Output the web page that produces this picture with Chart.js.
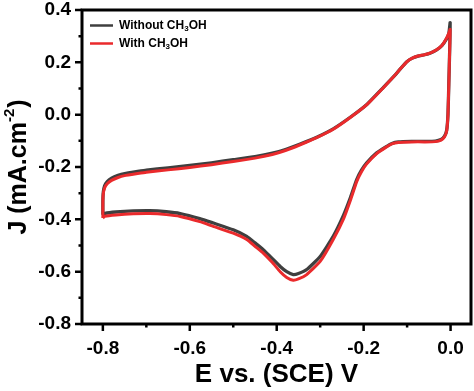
<!DOCTYPE html>
<html>
<head>
<meta charset="utf-8">
<script src="https://cdn.jsdelivr.net/npm/chart.js@4.4.0/dist/chart.umd.min.js"></script>
<style>
  html, body { margin: 0; padding: 0; background: #fff; }
  #wrap { width: 474px; height: 391px; }
</style>
</head>
<body>
<div id="wrap"><canvas id="cvChart" width="474" height="391"></canvas></div>
<script>
// Cyclic voltammogram: sweep from -0.8 V up to 0.0 V and back (V vs SCE)
const potential = [
  -0.800, -0.800, -0.799, -0.796, -0.790, -0.780, -0.765, -0.750, -0.720, -0.700,
  -0.650, -0.600, -0.550, -0.500, -0.450, -0.410, -0.380, -0.346, -0.308, -0.270,
  -0.230, -0.192, -0.154, -0.130, -0.115, -0.100, -0.088, -0.075, -0.060, -0.046,
  -0.032, -0.020, -0.010, -0.004, -0.001,
  -0.002, -0.004, -0.006, -0.009, -0.014, -0.022, -0.035, -0.060, -0.090, -0.120,
  -0.135, -0.150, -0.170, -0.193, -0.205, -0.216, -0.230, -0.246, -0.270, -0.300,
  -0.331, -0.350, -0.362, -0.377, -0.392, -0.410, -0.431, -0.450, -0.469, -0.500,
  -0.546, -0.577, -0.622, -0.654, -0.692, -0.730, -0.770, -0.795, -0.800
];

// current density, mA/cm2
const currentWithout = [
  -0.382, -0.330, -0.295, -0.272, -0.256, -0.243, -0.232, -0.225, -0.217, -0.212,
  -0.203, -0.194, -0.184, -0.172, -0.160, -0.147, -0.133, -0.112, -0.086, -0.054,
  -0.009, 0.040, 0.105, 0.147, 0.176, 0.203, 0.216, 0.224, 0.229, 0.236,
  0.248, 0.264, 0.288, 0.310, 0.352,
  0.250, 0.120, 0.000, -0.060, -0.082, -0.095, -0.101, -0.102, -0.102, -0.104,
  -0.110, -0.124, -0.146, -0.184, -0.212, -0.248, -0.315, -0.383, -0.465, -0.542,
  -0.592, -0.607, -0.611, -0.600, -0.580, -0.550, -0.516, -0.490, -0.465, -0.440,
  -0.414, -0.397, -0.378, -0.371, -0.367, -0.368, -0.372, -0.377, -0.382
];

const currentWith = [
  -0.395, -0.335, -0.302, -0.280, -0.264, -0.251, -0.240, -0.233, -0.225, -0.220,
  -0.211, -0.202, -0.191, -0.179, -0.166, -0.152, -0.137, -0.115, -0.088, -0.056,
  -0.010, 0.039, 0.104, 0.147, 0.176, 0.203, 0.216, 0.224, 0.229, 0.236,
  0.248, 0.264, 0.290, 0.312, 0.326,
  0.250, 0.120, 0.000, -0.062, -0.085, -0.097, -0.103, -0.104, -0.104, -0.106,
  -0.112, -0.126, -0.149, -0.188, -0.218, -0.256, -0.325, -0.397, -0.477, -0.561,
  -0.611, -0.628, -0.633, -0.622, -0.600, -0.565, -0.529, -0.503, -0.477, -0.453,
  -0.427, -0.409, -0.389, -0.382, -0.378, -0.379, -0.383, -0.388, -0.395
];

const seriesNames = ['Without CH3OH', 'With CH3OH'];
const xTicks = [-0.8, -0.6, -0.4, -0.2, 0.0];
const yTicks = [-0.8, -0.6, -0.4, -0.2, 0.0, 0.2, 0.4];
const xMinorTicks = [-0.7, -0.5, -0.3, -0.1];
const yMinorTicks = [-0.7, -0.5, -0.3, -0.1, 0.1, 0.3];
const xTitle = 'E vs. (SCE) V';

const FONT = "'Liberation Sans', Arial, sans-serif";

function toPoints(xs, ys) {
  return xs.map((x, i) => ({ x: x, y: ys[i] }));
}

// draws text where digits come out as subscripts (CH3OH)
function drawWithSubscripts(ctx, text, x, y, size) {
  const parts = text.split(/(\d+)/);
  parts.forEach(p => {
    if (!p) return;
    const isSub = /^\d+$/.test(p);
    ctx.font = 'bold ' + (isSub ? Math.round(size * 0.68) : size) + 'px ' + FONT;
    ctx.fillText(p, x, isSub ? y + size * 0.3 : y);
    x += ctx.measureText(p).width;
  });
}

const framePlugin = {
  id: 'framePlugin',
  afterDraw(chart) {
    const ctx = chart.ctx;
    const a = chart.chartArea;
    const xs = chart.scales.x;
    const ys = chart.scales.y;
    ctx.save();
    ctx.strokeStyle = '#000';

    // plot frame
    ctx.lineWidth = 3;
    ctx.strokeRect(a.left, a.top, a.right - a.left, a.bottom - a.top);

    // outward tick marks, major and minor
    ctx.lineWidth = 2.5;
    ctx.beginPath();
    xTicks.forEach(v => {
      const px = xs.getPixelForValue(v);
      ctx.moveTo(px, a.bottom); ctx.lineTo(px, a.bottom + 7);
    });
    xMinorTicks.forEach(v => {
      const px = xs.getPixelForValue(v);
      ctx.moveTo(px, a.bottom); ctx.lineTo(px, a.bottom + 3.5);
    });
    yTicks.forEach(v => {
      const py = ys.getPixelForValue(v);
      ctx.moveTo(a.left, py); ctx.lineTo(a.left - 7, py);
    });
    yMinorTicks.forEach(v => {
      const py = ys.getPixelForValue(v);
      ctx.moveTo(a.left, py); ctx.lineTo(a.left - 3.5, py);
    });
    ctx.stroke();

    // axis titles
    ctx.fillStyle = '#000';
    ctx.textBaseline = 'middle';
    ctx.textAlign = 'center';
    ctx.font = 'bold 26px ' + FONT;
    ctx.fillText(xTitle, (a.left + a.right) / 2, 375);

    ctx.save();
    ctx.translate(19, (a.top + a.bottom) / 2);
    ctx.rotate(-Math.PI / 2);
    ctx.textAlign = 'left';
    const big = 'bold 25px ' + FONT, small = 'bold 15px ' + FONT;
    ctx.font = big;
    const w1 = ctx.measureText('J (mA.cm').width;
    const w3 = ctx.measureText(')').width;
    ctx.font = small;
    const w2 = ctx.measureText('-2').width + 1;
    let tx = -(w1 + w2 + w3) / 2;
    ctx.font = big;
    ctx.fillText('J (mA.cm', tx, 0);
    tx += w1;
    ctx.font = small;
    ctx.fillText('-2', tx, -9);
    tx += w2;
    ctx.font = big;
    ctx.fillText(')', tx, 0);
    ctx.restore();

    // legend, top-left inside the frame
    ctx.textAlign = 'left';
    chart.data.datasets.forEach((ds, i) => {
      const ly = a.top + 15.5 + i * 18;
      ctx.strokeStyle = ds.borderColor;
      ctx.lineWidth = 2.5;
      ctx.beginPath();
      ctx.moveTo(90, ly); ctx.lineTo(113, ly);
      ctx.stroke();
      ctx.fillStyle = '#000';
      drawWithSubscripts(ctx, ds.label, 119, ly, 12);
    });
    ctx.restore();
  }
};

new Chart(document.getElementById('cvChart'), {
  type: 'scatter',
  data: {
    datasets: [
      {
        label: seriesNames[0],
        data: toPoints(potential, currentWithout),
        borderColor: '#3f3f3f',
        borderWidth: 3.3,
        showLine: true,
        pointRadius: 0,
        tension: 0.15,
        order: 2
      },
      {
        label: seriesNames[1],
        data: toPoints(potential, currentWith),
        borderColor: '#ea2a2c',
        borderWidth: 3,
        showLine: true,
        pointRadius: 0,
        tension: 0.15,
        order: 1
      }
    ]
  },
  options: {
    responsive: false,
    animation: false,
    events: [],
    layout: { autoPadding: false, padding: { top: 10, right: 3, left: 0, bottom: 0 } },
    plugins: {
      legend: { display: false },
      tooltip: { enabled: false }
    },
    scales: {
      x: {
        type: 'linear',
        min: -0.848,
        max: 0.047,
        grid: { display: false, drawTicks: false },
        border: { display: false },
        ticks: {
          padding: 13,
          color: '#000',
          font: { family: FONT, size: 19, weight: 'bold' },
          callback: v => v.toFixed(1)
        },
        afterBuildTicks: s => { s.ticks = xTicks.map(v => ({ value: v })); },
        afterFit: s => {
          s.height = 67;
          s.paddingLeft = 0; s.paddingRight = 0;
        }
      },
      y: {
        type: 'linear',
        min: -0.8,
        max: 0.4,
        grid: { display: false, drawTicks: false },
        border: { display: false },
        ticks: {
          padding: 11,
          color: '#000',
          font: { family: FONT, size: 19, weight: 'bold' },
          callback: v => v.toFixed(1)
        },
        afterBuildTicks: s => { s.ticks = yTicks.map(v => ({ value: v })); },
        afterFit: s => {
          s.width = 82;
          s.paddingTop = 0; s.paddingBottom = 0;
        }
      }
    }
  },
  plugins: [framePlugin]
});
</script>
</body>
</html>
